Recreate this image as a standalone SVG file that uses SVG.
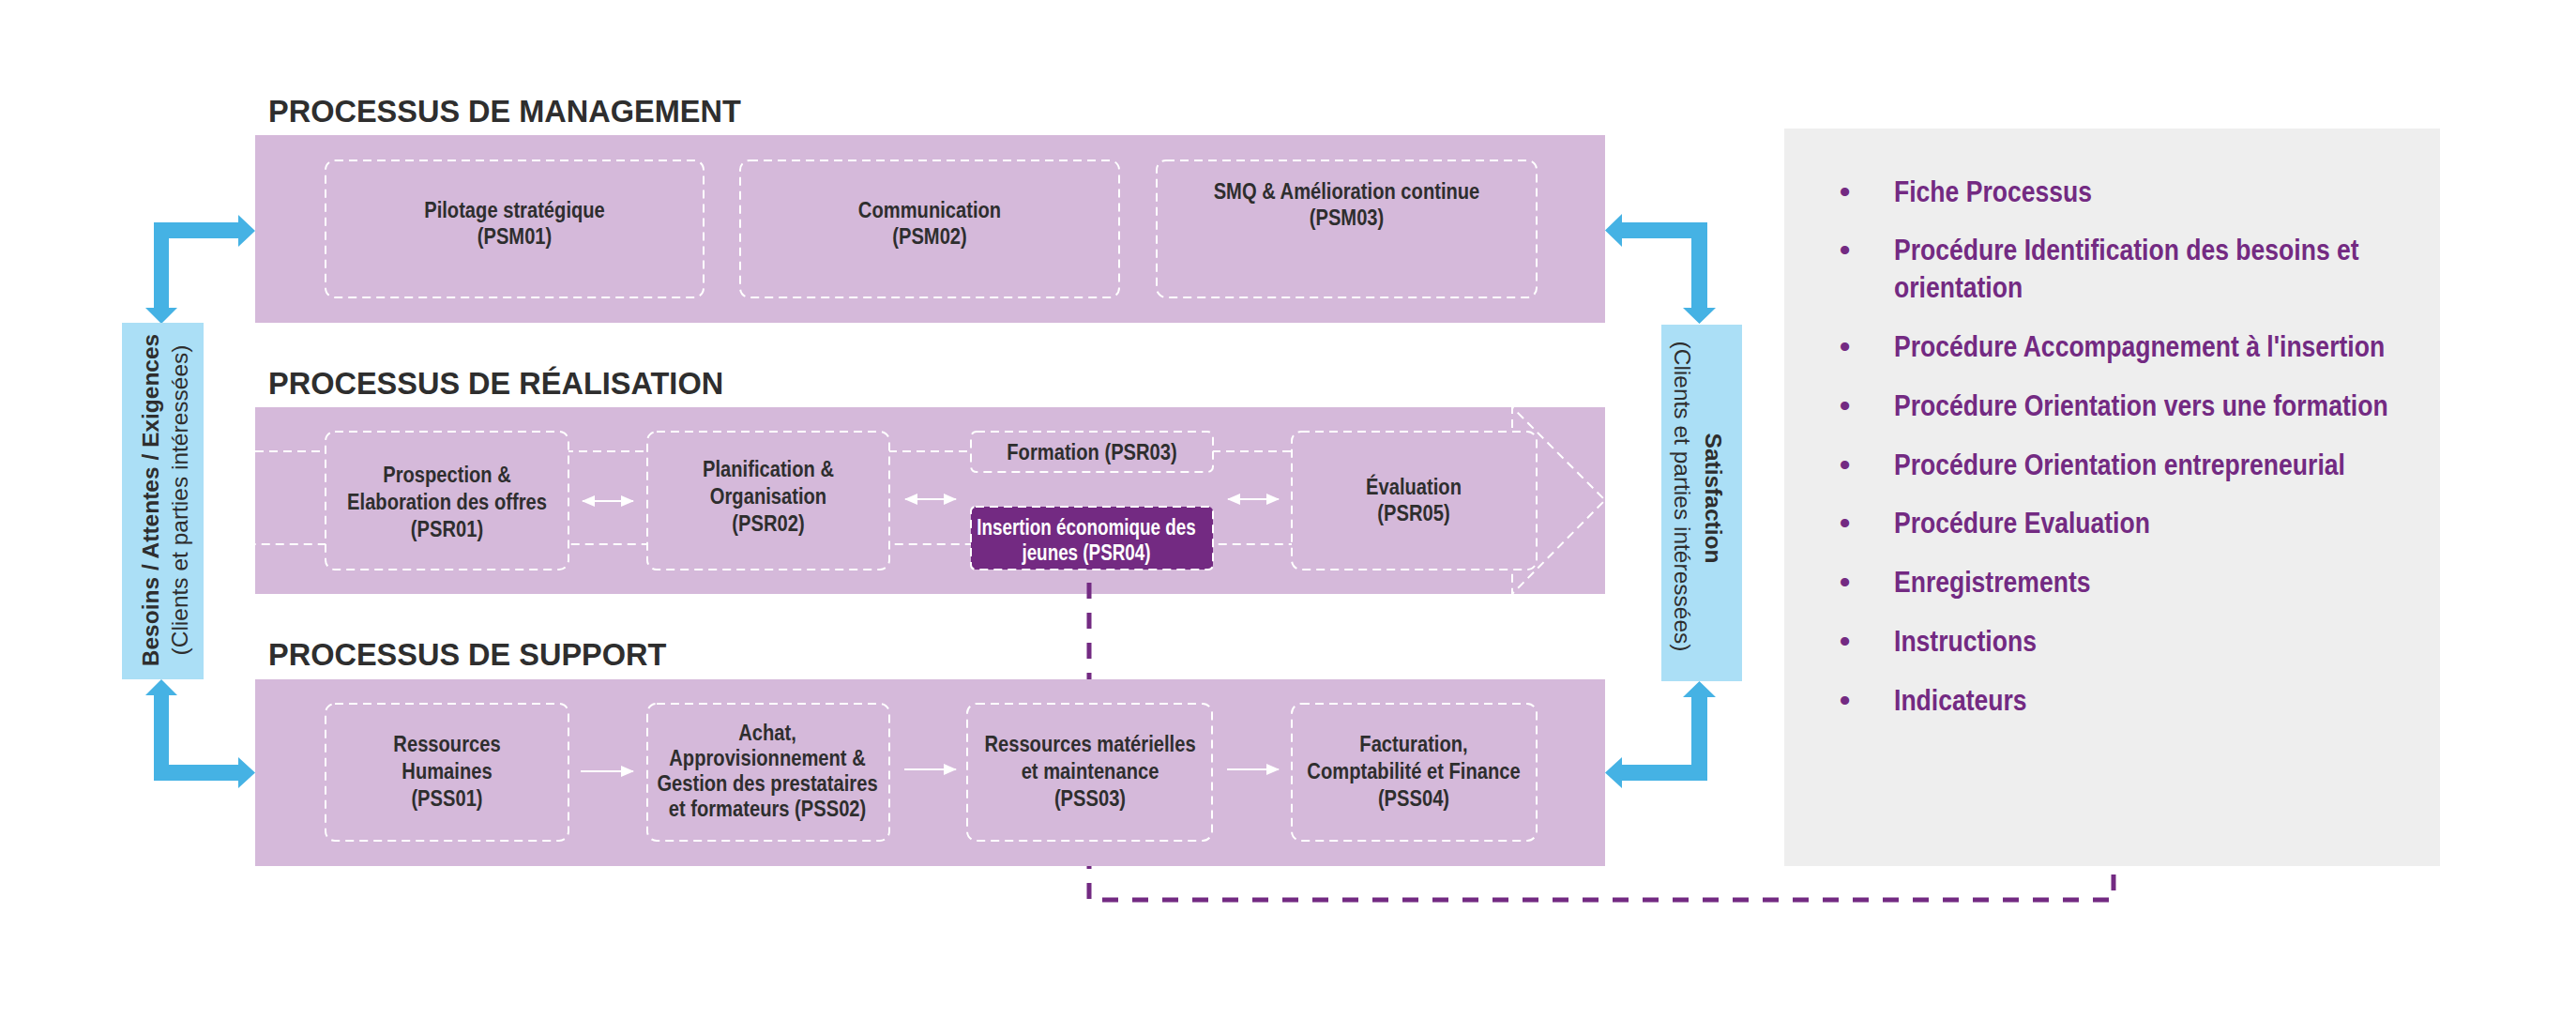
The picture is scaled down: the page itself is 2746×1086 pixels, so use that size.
<svg xmlns="http://www.w3.org/2000/svg" width="2746" height="1086" viewBox="0 0 2746 1086">
<style>
.band{fill:#d5b9da}
.node{fill:#d5b9da;stroke:#ffffff;stroke-width:2;stroke-dasharray:9 6}
.nodeDark{fill:#732a82;stroke:#ffffff;stroke-width:2;stroke-dasharray:9 6}
.title{font-family:"Liberation Sans",Arial,sans-serif;font-weight:bold;font-size:32.5px;fill:#2e2e2e}
.nt{font-family:"Liberation Sans",Arial,sans-serif;font-weight:bold;font-size:24px;fill:#2e2e2e;text-anchor:middle}
.ntw{font-family:"Liberation Sans",Arial,sans-serif;font-weight:bold;font-size:23px;fill:#ffffff;text-anchor:middle}
.side{font-family:"Liberation Sans",Arial,sans-serif;font-size:24.5px;fill:#2e2e2e;text-anchor:middle}
.sideb{font-family:"Liberation Sans",Arial,sans-serif;font-size:24.5px;font-weight:bold;fill:#2e2e2e;text-anchor:middle}
.li{font-family:"Liberation Sans",Arial,sans-serif;font-weight:bold;font-size:32px;fill:#732a82}
.blue{fill:#45b2e4}
.sbox{fill:#abdff6}
.flow{stroke:#ffffff;stroke-width:2;stroke-dasharray:9 6;fill:none}
.wa{stroke:#ffffff;stroke-width:2;fill:none}
.link{stroke:#732a82;stroke-width:5;stroke-dasharray:17 15;fill:none}
</style>
<defs>
<marker id="wh" markerUnits="userSpaceOnUse" markerWidth="14" markerHeight="14" refX="13" refY="7" orient="auto-start-reverse">
<path d="M0,1 L14,7 L0,13 z" fill="#ffffff"/>
</marker>
</defs>
<rect width="2746" height="1086" fill="#ffffff"/>

<g id="titles">
<text class="title" x="286" y="130">PROCESSUS DE MANAGEMENT</text>
<text class="title" x="286" y="420">PROCESSUS DE RÉALISATION</text>
<text class="title" x="286" y="709">PROCESSUS DE SUPPORT</text>
</g>

<g id="band-management"><rect class="band" x="272" y="144" width="1439" height="200"/></g>
<g id="band-realisation"><rect class="band" x="272" y="434" width="1439" height="199"/></g>

<g id="connectors-back">
<path class="link" d="M1161,621 V959 H2253 V923"/>
</g>

<g id="band-support"><rect class="band" x="272" y="724" width="1439" height="199"/></g>

<g id="panel-docs">
<rect x="1902" y="137" width="699" height="786" fill="#eeeeee"/>
<text class="li" x="1961" y="215">•</text><text class="li" transform="translate(2019,215) scale(0.83,1)">Fiche Processus</text>
<text class="li" x="1961" y="277">•</text><text class="li" transform="translate(2019,277) scale(0.83,1)">Procédure Identification des besoins et</text>
<text class="li" transform="translate(2019,317) scale(0.83,1)">orientation</text>
<text class="li" x="1961" y="380">•</text><text class="li" transform="translate(2019,380) scale(0.83,1)">Procédure Accompagnement à l'insertion</text>
<text class="li" x="1961" y="443">•</text><text class="li" transform="translate(2019,443) scale(0.83,1)">Procédure Orientation vers une formation</text>
<text class="li" x="1961" y="506">•</text><text class="li" transform="translate(2019,506) scale(0.83,1)">Procédure Orientation entrepreneurial</text>
<text class="li" x="1961" y="568">•</text><text class="li" transform="translate(2019,568) scale(0.83,1)">Procédure Evaluation</text>
<text class="li" x="1961" y="631">•</text><text class="li" transform="translate(2019,631) scale(0.83,1)">Enregistrements</text>
<text class="li" x="1961" y="694">•</text><text class="li" transform="translate(2019,694) scale(0.83,1)">Instructions</text>
<text class="li" x="1961" y="757">•</text><text class="li" transform="translate(2019,757) scale(0.83,1)">Indicateurs</text>
</g>

<g id="connectors">
<polyline class="flow" points="272,481 1612,481 1612,434 1711,533 1612,633 1612,580 272,580"/>
<line class="wa" x1="621" y1="534" x2="675" y2="534" marker-start="url(#wh)" marker-end="url(#wh)"/>
<line class="wa" x1="965" y1="532" x2="1019" y2="532" marker-start="url(#wh)" marker-end="url(#wh)"/>
<line class="wa" x1="1309" y1="532" x2="1363" y2="532" marker-start="url(#wh)" marker-end="url(#wh)"/>
<line class="wa" x1="619" y1="822" x2="675" y2="822" marker-end="url(#wh)"/>
<line class="wa" x1="964" y1="820" x2="1019" y2="820" marker-end="url(#wh)"/>
<line class="wa" x1="1308" y1="820" x2="1363" y2="820" marker-end="url(#wh)"/>
<polygon class="blue" points="164,237 254,237 254,229 272,246 254,263 254,254 180,254 180,328 189,328 172,345 155,328 164,328"/>
<polygon class="blue" points="172,724 189,741 180,741 180,815 254,815 254,807 272,823.5 254,840 254,832 164,832 164,741 155,741"/>
<polygon class="blue" points="1820,237 1820,328 1829,328 1811.5,345 1794,328 1803,328 1803,254 1729,254 1729,263 1711,245.5 1729,228 1729,237"/>
<polygon class="blue" points="1811.5,726 1829,743 1820,743 1820,832 1729,832 1729,840 1711,823.5 1729,807 1729,815 1803,815 1803,743 1794,743"/>
</g>

<g id="side-besoins">
<rect class="sbox" x="130" y="344" width="87" height="380"/>
<text class="sideb" transform="translate(169,533) rotate(-90)">Besoins / Attentes / Exigences</text>
<text class="side" transform="translate(200,533) rotate(-90)">(Clients et parties intéressées)</text>
</g>
<g id="side-satisfaction">
<rect class="sbox" x="1771" y="346" width="86" height="380"/>
<text class="sideb" transform="translate(1818,531) rotate(90)">Satisfaction</text>
<text class="side" transform="translate(1785,529) rotate(90)">(Clients et parties intéressées)</text>
</g>

<g id="PSM01"><rect class="node" x="347" y="171" width="403" height="146" rx="10"/>
<text class="nt" transform="translate(548.5,232) scale(0.84,1)">Pilotage stratégique</text><text class="nt" transform="translate(548.5,260) scale(0.84,1)">(PSM01)</text></g>
<g id="PSM02"><rect class="node" x="789" y="171" width="404" height="146" rx="10"/>
<text class="nt" transform="translate(991,232) scale(0.84,1)">Communication</text><text class="nt" transform="translate(991,260) scale(0.84,1)">(PSM02)</text></g>
<g id="PSM03"><rect class="node" x="1233" y="171" width="405" height="146" rx="10"/>
<text class="nt" transform="translate(1435.5,212) scale(0.84,1)">SMQ &amp; Amélioration continue</text><text class="nt" transform="translate(1435.5,240) scale(0.84,1)">(PSM03)</text></g>

<g id="PSR01"><rect class="node" x="347" y="460" width="259" height="147" rx="10"/>
<text class="nt" transform="translate(476.5,514) scale(0.84,1)">Prospection &amp;</text><text class="nt" transform="translate(476.5,543) scale(0.84,1)">Elaboration des offres</text><text class="nt" transform="translate(476.5,572) scale(0.84,1)">(PSR01)</text></g>
<g id="PSR02"><rect class="node" x="690" y="460" width="258" height="147" rx="10"/>
<text class="nt" transform="translate(819,508) scale(0.84,1)">Planification &amp;</text><text class="nt" transform="translate(819,537) scale(0.84,1)">Organisation</text><text class="nt" transform="translate(819,566) scale(0.84,1)">(PSR02)</text></g>
<g id="PSR03"><rect class="node" x="1035" y="460" width="258" height="43" rx="6"/>
<text class="nt" transform="translate(1164,490) scale(0.84,1)">Formation (PSR03)</text></g>
<g id="PSR04"><rect class="nodeDark" x="1035" y="540" width="258" height="67" rx="5"/>
<text class="ntw" transform="translate(1158,570) scale(0.82,1)">Insertion économique des</text><text class="ntw" transform="translate(1158,597) scale(0.82,1)">jeunes (PSR04)</text></g>
<g id="PSR05"><rect class="node" x="1377" y="460" width="261" height="147" rx="10"/>
<text class="nt" transform="translate(1507,527) scale(0.84,1)">Évaluation</text><text class="nt" transform="translate(1507,555) scale(0.84,1)">(PSR05)</text></g>

<g id="PSS01"><rect class="node" x="347" y="750" width="259" height="146" rx="10"/>
<text class="nt" transform="translate(476.5,801) scale(0.84,1)">Ressources</text><text class="nt" transform="translate(476.5,830) scale(0.84,1)">Humaines</text><text class="nt" transform="translate(476.5,859) scale(0.84,1)">(PSS01)</text></g>
<g id="PSS02"><rect class="node" x="690" y="750" width="258" height="146" rx="10"/>
<text class="nt" transform="translate(818,789) scale(0.84,1)">Achat,</text><text class="nt" transform="translate(818,816) scale(0.84,1)">Approvisionnement &amp;</text><text class="nt" transform="translate(818,843) scale(0.84,1)">Gestion des prestataires</text><text class="nt" transform="translate(818,870) scale(0.84,1)">et formateurs (PSS02)</text></g>
<g id="PSS03"><rect class="node" x="1031" y="750" width="261" height="146" rx="10"/>
<text class="nt" transform="translate(1162,801) scale(0.84,1)">Ressources matérielles</text><text class="nt" transform="translate(1162,830) scale(0.84,1)">et maintenance</text><text class="nt" transform="translate(1162,859) scale(0.84,1)">(PSS03)</text></g>
<g id="PSS04"><rect class="node" x="1377" y="750" width="261" height="146" rx="10"/>
<text class="nt" transform="translate(1507,801) scale(0.84,1)">Facturation,</text><text class="nt" transform="translate(1507,830) scale(0.84,1)">Comptabilité et Finance</text><text class="nt" transform="translate(1507,859) scale(0.84,1)">(PSS04)</text></g>
</svg>
